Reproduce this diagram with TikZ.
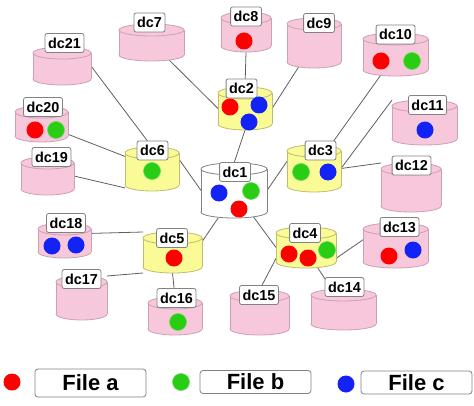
\documentclass[tikz,border=0pt]{standalone}
\usepackage{fontspec}
\setsansfont{Liberation Sans}
\usetikzlibrary{backgrounds}

\definecolor{cylpink}{RGB}{247,199,219}
\definecolor{cylpinkd}{RGB}{205,160,180}
\definecolor{cylyel}{RGB}{250,250,150}
\definecolor{cylyeld}{RGB}{190,190,110}
\definecolor{cylgray}{RGB}{130,130,130}
\definecolor{linkgray}{RGB}{95,95,95}
\definecolor{fred}{RGB}{255,0,0}
\definecolor{fgreen}{RGB}{40,205,20}
\definecolor{fblue}{RGB}{20,35,245}

\tikzset{
	dclabel/.style={draw=cylgray,fill=white,rounded corners=1pt,inner xsep=1.5pt,inner ysep=0pt,minimum height=9.5pt,font=\sffamily\bfseries\fontsize{7.2}{7.2}\selectfont},
	link/.style={draw=linkgray,line width=0.4pt},
	filea/.style={circle,fill=fred,inner sep=0,outer sep=0,minimum size=8.5pt},
	fileb/.style={circle,fill=fgreen,draw=fgreen!70!white,line width=0.3pt,inner sep=0,outer sep=0,minimum size=8.5pt},
	filec/.style={circle,fill=fblue,inner sep=0,outer sep=0,minimum size=8.5pt},
	keybox/.style={draw=cylgray,fill=white,rounded corners=1.5pt,minimum width=55.5pt,minimum height=11.5pt,inner sep=0,font=\sffamily\bfseries\fontsize{11}{11}\selectfont}
}

% #1 name, #2-#5 left top right bottom (px), #6 fill, #7 border, #8 #9 label centre
\newcommand{\dccyl}[9]{%
	\pgfmathsetmacro\dcx{(#2+#4)/2}
	\pgfmathsetmacro\dcy{(#3+#5)/2}
	\pgfmathsetmacro\dcrx{(#4-#2)/2}
	\pgfmathsetmacro\dcw{(#4-#2)*0.5}
	\pgfmathsetmacro\dch{(#5-#3)*0.5}
	\filldraw[fill=#6,draw=#7,line width=0.4pt] (\dcx,#5-6) ellipse[x radius=\dcrx,y radius=6];
	\fill[#6] (#2,#3+6) rectangle (#4,#5-6);
	\draw[#7,line width=0.4pt] (#2,#3+6) -- (#2,#5-6) (#4,#3+6) -- (#4,#5-6);
	\filldraw[fill=#6,draw=#7,line width=0.4pt] (\dcx,#3+6) ellipse[x radius=\dcrx,y radius=6];
	\node[inner sep=0,outer sep=0,minimum width=\dcw pt,minimum height=\dch pt] (#1) at (\dcx,\dcy) {};
	\node[dclabel] (#1-l) at (#8,#9) {#1};
}

\begin{document}
\begin{tikzpicture}[x=0.5pt,y=-0.5pt]
	\useasboundingbox (0,0) rectangle (474,405);

	% data centres
	\dccyl{dc1}{201}{163}{267}{218}{white}{cylgray}{235}{172}
	\dccyl{dc2}{218}{87}{272}{130}{cylyel}{cylyeld}{241.5}{88.5}
	\dccyl{dc3}{287}{145}{341}{192}{cylyel}{cylyeld}{320.5}{150.5}
	\dccyl{dc4}{276}{227}{336}{268}{cylyel}{cylyeld}{305}{233}
	\dccyl{dc5}{143}{232}{202}{273}{cylyel}{cylyeld}{172}{238}
	\dccyl{dc6}{125}{147}{179}{191}{cylyel}{cylyeld}{152.5}{150.5}
	\dccyl{dc7}{119}{24}{184}{61}{cylpink}{cylpinkd}{149.5}{22.5}
	\dccyl{dc8}{221}{12}{271}{52}{cylpink}{cylpinkd}{246}{16.5}
	\dccyl{dc9}{287}{18}{341}{68}{cylpink}{cylpinkd}{319}{23}
	\dccyl{dc10}{363}{33}{428}{76}{cylpink}{cylpinkd}{395.5}{34.5}
	\dccyl{dc11}{392}{100}{457}{145}{cylpink}{cylpinkd}{427.5}{105}
	\dccyl{dc12}{381}{163}{441}{212}{cylpink}{cylpinkd}{411.5}{165.5}
	\dccyl{dc13}{363}{223}{428}{268}{cylpink}{cylpinkd}{399.5}{227}
	\dccyl{dc14}{311}{289}{376}{330}{cylpink}{cylpinkd}{344.5}{287}
	\dccyl{dc15}{230}{290}{289}{335}{cylpink}{cylpinkd}{259}{295}
	\dccyl{dc16}{148}{297}{202}{335}{cylpink}{cylpinkd}{176.5}{298}
	\dccyl{dc17}{56}{276}{107}{320}{cylpink}{cylpinkd}{81.5}{279}
	\dccyl{dc18}{38}{223}{91}{258}{cylpink}{cylpinkd}{66}{223}
	\dccyl{dc19}{21}{157}{74}{195}{cylpink}{cylpinkd}{51.5}{157}
	\dccyl{dc20}{15}{106}{68}{142}{cylpink}{cylpinkd}{43}{107}
	\dccyl{dc21}{33}{47}{91}{85}{cylpink}{cylpinkd}{64.5}{43}

	% links
	\begin{scope}[on background layer]
		\draw[link] (dc21.east) -- (dc6.north);
		\draw[link] (dc20.center) -- (dc6.155);
		\draw[link] (dc19.east) -- (dc6.215);
		\draw[link] (dc6.20) -- (dc1.west);
		\draw[link] (dc7.center) -- (dc2.west);
		\draw[link] (dc8.south) -- (dc2.north);
		\draw[link] (dc9.center) -- (dc2.east);
		\draw[link] (dc2.south) -- (dc1.north);
		\draw[link] (dc3.165) -- (dc1.east);
		\draw[link] (dc10.center) -- (dc3.center);
		\draw[link] (dc11.north west) -- (dc3.east);
		\draw[link] (dc12.north west) -- (dc3.east);
		\draw[link] (dc1.center) -- (dc4.west);
		\draw[link] (dc4.-20) -- (dc13.170);
		\draw[link] (dc4.-60) -- (dc14.120);
		\draw[link] (dc4.200) -- (dc15.north);
		\draw[link] (dc5.20) -- (dc1.240);
		\draw[link] (dc18.15) -- (dc5.north west);
		\draw[link] (dc17.north east) -- (dc5.south west);
		\draw[link] (dc5.south) -- (dc16.north);
	\end{scope}

	% files held
	\node[filec] (dc1c) at (219,193) {};
	\node[fileb] (dc1b) at (251,191) {};
	\node[filea] (dc1a) at (239,209) {};
	\node[filea] (dc2a) at (230,107) {};
	\node[filec] (dc2c) at (259,105) {};
	\node[filec] (dc2cc) at (249,122) {};
	\node[fileb] (dc3b) at (301,172) {};
	\node[filec] (dc3c) at (328,172) {};
	\node[filea] (dc4a) at (289,254) {};
	\node[filea] (dc4aa) at (308,258) {};
	\node[fileb] (dc4b) at (327,250) {};
	\node[filea] (dc5a) at (174,258) {};
	\node[fileb] (dc6b) at (152,171) {};
	\node[filea] (dc8a) at (244,41) {};
	\node[filea] (dc10a) at (381,61) {};
	\node[fileb] (dc10b) at (412,61) {};
	\node[filec] (dc11c) at (425,130) {};
	\node[filea] (dc13a) at (389,256) {};
	\node[filec] (dc13c) at (413,250) {};
	\node[fileb] (dc16b) at (178,322) {};
	\node[filec] (dc18c) at (52,246) {};
	\node[filec] (dc18cc) at (76,245) {};
	\node[filea] (dc20a) at (35,130) {};
	\node[fileb] (dc20b) at (56,130) {};

	% key
	\node[filea] (keya) at (12,382) {};
	\node[keybox,minimum height=14pt] (filea) at (90.5,383) {File a};
	\node[fileb] (keyb) at (181,382) {};
	\node[keybox] (fileb) at (255.5,382) {File b};
	\node[filec] (keyc) at (346,384) {};
	\node[keybox] (filec) at (416.5,382.5) {File c};
\end{tikzpicture}
\end{document}
